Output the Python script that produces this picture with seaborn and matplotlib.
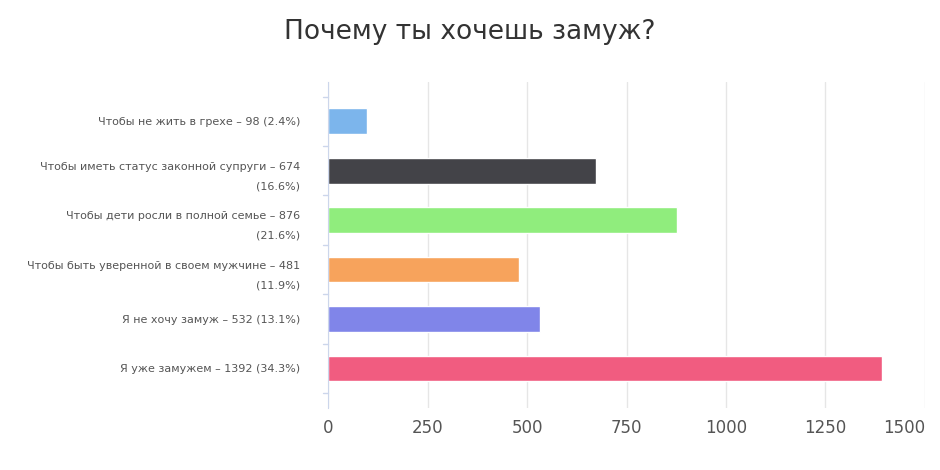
import matplotlib
matplotlib.use("Agg")
import matplotlib.pyplot as plt
import seaborn as sns
import pandas as pd

labels = [
    "Чтобы не жить в грехе – 98 (2.4%)",
    "Чтобы иметь статус законной супруги – 674\n(16.6%)",
    "Чтобы дети росли в полной семье – 876\n(21.6%)",
    "Чтобы быть уверенной в своем мужчине – 481\n(11.9%)",
    "Я не хочу замуж – 532 (13.1%)",
    "Я уже замужем – 1392 (34.3%)",
]
values = [98, 674, 876, 481, 532, 1392]
colors = ["#7cb5ec", "#434348", "#90ed7d", "#f7a35c", "#8085e9", "#f15c80"]
xticks = [0, 250, 500, 750, 1000, 1250, 1500]

df = pd.DataFrame({"label": labels, "value": values})

sns.set_style("white")
fig = plt.figure(figsize=(9.4, 4.7), dpi=100)
ax = fig.add_axes([0.349, 0.132, 0.635, 0.694])
sns.barplot(data=df, x="value", y="label", hue="label", palette=colors,
            legend=False, width=0.52, ax=ax, saturation=1)

ax.set_xlim(0, 1500)
ax.set_xticks(xticks)
ax.set_xticklabels([str(t) for t in xticks], fontsize=12, color="#555555")
ax.get_xticklabels()[-1].set_horizontalalignment("right")
ax.tick_params(axis="x", length=0, pad=8)
ax.set_yticks(range(len(labels)))
ax.set_yticklabels(labels, fontsize=8, color="#555555", linespacing=2.2)
ax.tick_params(axis="y", length=0, pad=20)
for b in [i - 0.5 for i in range(len(labels) + 1)]:
    ax.plot([-12, 0], [b, b], color="#ccd6eb", lw=1, clip_on=False)
ax.set_axisbelow(True)
ax.grid(axis="x", color="#e6e6e6", lw=1)
for s in ["top", "right", "bottom"]:
    ax.spines[s].set_visible(False)
ax.spines["left"].set_color("#ccd6eb")
ax.set_xlabel("")
ax.set_ylabel("")

fig.suptitle("Почему ты хочешь замуж?", fontsize=19, color="#333333", y=0.96)
fig.savefig("out.png", dpi=100)
